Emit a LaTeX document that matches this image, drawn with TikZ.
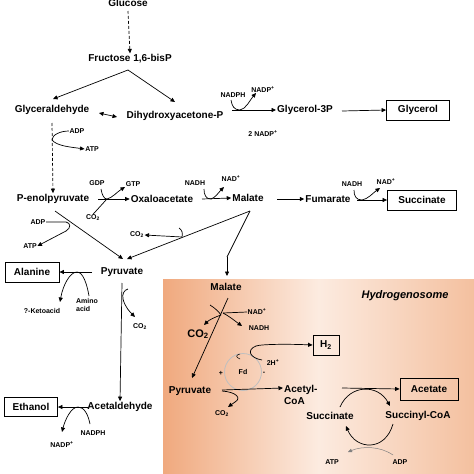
\documentclass[tikz,border=0pt]{standalone}
\usepackage{fontspec}
\setmainfont{Liberation Sans}
\usepackage{xcolor}
\usetikzlibrary{arrows.meta}
\definecolor{hgleft}{HTML}{F0A97E}
\definecolor{hgmid}{HTML}{FCEBE0}
\definecolor{hgright}{HTML}{F4C09F}

\begin{document}
\begin{tikzpicture}[x=1pt, y=-1pt,
  met/.style={font=\bfseries\fontsize{10}{12}\selectfont, inner sep=1pt},
  cof/.style={font=\bfseries\fontsize{7}{8}\selectfont, inner sep=0.5pt},
  endbox/.style={met, draw, line width=0.8pt, minimum height=20},
  arr/.style={-{Triangle[length=4.5pt,width=4pt]}, line width=0.7pt},
  ln/.style={line width=0.7pt}]
  \useasboundingbox (0,0) rectangle (474,474);
  % Hydrogenosome background
  \shade[left color=hgleft, right color=hgright, middle color=hgmid] (163,279) rectangle (474,474);
  % Glycolysis
  \node[met] (glc) at (128,3) {Glucose};
  \node[met] (fbp) at (130,59) {Fructose 1,6-bisP};
  \node[met] (gald) at (52,110) {Glyceraldehyde};
  \node[met] (dhap) at (175,116) {Dihydroxyacetone-P};
  \node[met] (g3p) at (305,110) {Glycerol-3P};
  \node[endbox, minimum width=63] (glyc) at (418,110) {Glycerol};
  \draw[arr, densely dashed] (128,11) -- (fbp.north);
  \coordinate (fbpb) at (128,70);
  \draw[arr] (fbpb) -- (53,99);
  \draw[arr] (fbpb) -- (175,102);
  \draw[{Triangle[length=4.5pt,width=4pt]}-{Triangle[length=4.5pt,width=4pt]}, line width=0.7pt] (99,113) -- (117,117);
  \node[cof] (adpa) at (77,131) {ADP};
  \node[cof] (atpa) at (92,149) {ATP};
  \draw[ln] (adpa.west) .. controls (60,131) and (52,135) .. (52,140);
  \draw[arr] (52,140) .. controls (57,146) and (70,147) .. (atpa.west);
  \node[cof] (nadpha) at (233,95) {NADPH};
  \node[cof] (nadpa) at (263,90) {NADP\textsuperscript{+}};
  \node[cof] (nadpb) at (263,134) {2 NADP\textsuperscript{+}};
  \draw[arr] (232,110) -- (g3p.west);
  \draw[ln] (231,100) .. controls (232,106) and (234,110) .. (240,110);
  \draw[arr] (240,110) .. controls (246,109) and (250,100) .. (256,93);
  \draw[arr] (342,111) -- (glyc.west);
  % Cytosol
  \node[met] (pep) at (53,199) {P-enolpyruvate};
  \node[met] (oaa) at (162,199) {Oxaloacetate};
  \node[met] (mal) at (248,198) {Malate};
  \node[met] (fum) at (328,199) {Fumarate};
  \node[endbox, minimum width=69] (succ) at (422,200) {Succinate};
  \draw[arr, densely dashed] (52,123) -- (pep.north);
  \node[cof] (gdp) at (97,183) {GDP};
  \node[cof] (gtp) at (133,184) {GTP};
  \node[cof] (co2a) at (93,218) {CO\textsubscript{2}};
  \draw[arr] (98,199) -- (oaa.west);
  \draw[ln] (101,189) .. controls (102,195) and (104,199) .. (107,199);
  \draw[arr] (107,199) .. controls (112,198) and (117,192) .. (125,187);
  \draw[ln] (co2a.north) -- (106,200);
  \node[cof] (nadha) at (195,183) {NADH};
  \node[cof] (nadpc) at (231,179) {NAD\textsuperscript{+}};
  \draw[arr] (202,199) -- (mal.west);
  \draw[ln] (204,189) .. controls (204,195) and (206,199) .. (211,199);
  \draw[arr] (211,199) .. controls (215,198) and (219,192) .. (224,187);
  \draw[arr] (277,199) -- (fum.west);
  \node[cof] (nadhb) at (352,184) {NADH};
  \node[cof] (nadpd) at (386,182) {NAD\textsuperscript{+}};
  \draw[arr] (357,200) -- (succ.west);
  \draw[ln] (354,190) .. controls (354,196) and (356,200) .. (362,200);
  \draw[arr] (362,200) .. controls (368,199) and (373,193) .. (380,188);
  % Pyruvate branch
  \node[met] (pyr) at (122,272) {Pyruvate};
  \node[endbox, minimum width=54] (ala) at (32,272) {Alanine};
  \node[cof] (adpb) at (38,222) {ADP};
  \node[cof] (atpb) at (30,246) {ATP};
  \node[cof] (co2b) at (137,235) {CO\textsubscript{2}};
  \coordinate (malb) at (250,211);
  \draw[arr] (55,211) -- (123,259);
  \draw[arr] (malb) -- (127,259);
  \draw[ln] (malb) -- (227,257);
  \draw[arr] (227,257) -- (227,276);
  \draw[ln] (adpb.east) -- (66,222) .. controls (71,223) and (71,228) .. (66,231);
  \draw[arr] (66,231) -- (atpb.east);
  \draw[arr] (182,237) -- (co2b.east);
  \draw[ln] (179,228) .. controls (182,230) and (183,233) .. (182,237);
  \node[cof] (keto) at (42,311) {?-Ketoacid};
  \node[cof, align=left] (amino) at (87,305) {Amino\\acid};
  \draw[arr] (92,272) -- (ala.east);
  \draw[ln] (89,296) .. controls (87,284) and (83,272) .. (77,272);
  \draw[arr] (77,272) .. controls (70,272) and (63,285) .. (60,302);
  \node[met] (acald) at (120,407) {Acetaldehyde};
  \node[endbox, minimum width=53, minimum height=19] (etoh) at (31,407) {Ethanol};
  \node[cof] (co2c) at (140,327) {CO\textsubscript{2}};
  \draw[arr] (122,283) -- (acald.north);
  \draw[ln] (128,289) .. controls (124,290) and (122,294) .. (123,299);
  \draw[arr] (123,299) .. controls (125,307) and (130,312) .. (135,317);
  \node[cof] (nadphb) at (93,433) {NADPH};
  \node[cof] (nadpe) at (62,445) {NADP\textsuperscript{+}};
  \draw[arr] (88,407) -- (etoh.east);
  \draw[ln] (90,424) .. controls (88,414) and (84,407) .. (78,407);
  \draw[arr] (78,407) .. controls (71,407) and (65,420) .. (62,432);
  % Hydrogenosome
  \node[font=\bfseries\itshape\fontsize{11}{13}\selectfont] (hgs) at (405,296) {Hydrogenosome};
  \node[met] (hmal) at (226,287) {Malate};
  \node[met] (hpyr) at (190,391) {Pyruvate};
  \node[met, align=left, anchor=west] (acoa) at (283,395) {Acetyl-\\CoA};
  \node[endbox, minimum width=58, minimum height=22] (acet) at (429,389) {Acetate};
  \node[endbox, minimum width=26] (h2) at (326,345) {H\textsubscript{2}};
  \node[met] (hsucc) at (330,416) {Succinate};
  \node[met] (hsca) at (418,416) {Succinyl-CoA};
  \node[cof] (nadpf) at (257,312) {NAD\textsuperscript{+}};
  \node[cof] (nadhc) at (259,328) {NADH};
  \node[met, font=\bfseries\fontsize{11}{13}\selectfont] (co2h) at (198,334) {CO\textsubscript{2}};
  \draw[arr] (228,298) -- (192,378);
  \draw[ln] (210,305) .. controls (215,308) and (219,312) .. (221,315);
  \draw[arr] (221,315) .. controls (215,317) and (209,320) .. (204,325);
  \draw[ln] (nadpf.west) -- (223,313);
  \draw[arr] (223,313) .. controls (229,316) and (235,321) .. (242,326);
  \node[circle, draw=gray!50, line width=0.8pt, minimum size=37pt, inner sep=0pt, font=\bfseries\fontsize{7}{8}\selectfont] (fd) at (243,372) {Fd};
  \node[cof] (plus) at (221,373) {+};
  \node[cof] (minus) at (264,373) {-};
  \node[cof] (hplus) at (273,363) {2H\textsuperscript{+}};
  \draw[line width=0.5pt] (240,354) .. controls (236,355) and (235,357) .. (240,359);
  \draw[ln] (262,360) .. controls (250,358) and (246,350) .. (256,346);
  \draw[arr] (256,346) .. controls (262,344) and (290,344) .. (h2.west);
  \node[cof] (co2d) at (222,414) {CO\textsubscript{2}};
  \draw[arr] (222,390) -- (acoa.west |- 0,388);
  \draw[ln] (222,391) .. controls (236,392) and (242,398) .. (235,402);
  \draw[arr] (235,402) -- (228,407);
  \draw[arr] (342,388) -- (acet.west);
  \draw[arr] (340,407) .. controls (350,384) and (378,384) .. (390,406);
  \draw[arr] (393,424) .. controls (385,452) and (356,450) .. (346,426);
  \node[cof] (atph) at (332,462) {ATP};
  \node[cof] (adph) at (400,462) {ADP};
  \draw[-{Triangle[length=4pt,width=3.5pt]}, gray, line width=0.5pt] (393,455) .. controls (380,446) and (362,446) .. (348,452);
\end{tikzpicture}
\end{document}
